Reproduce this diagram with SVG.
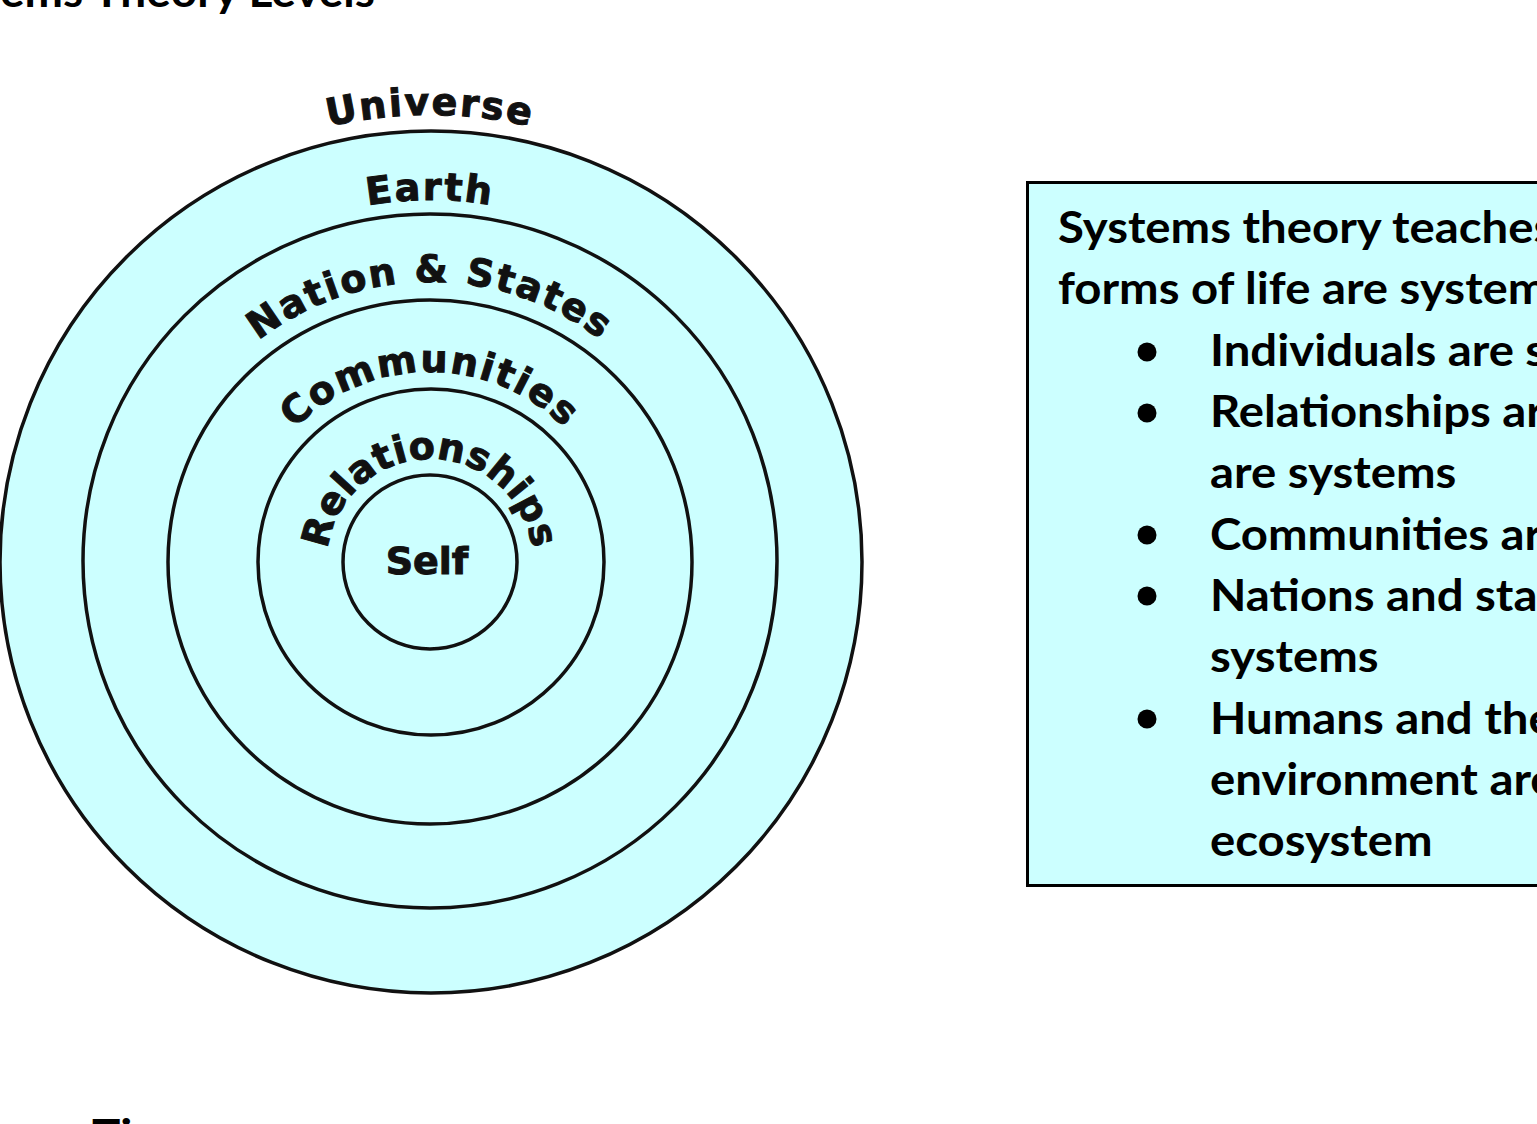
<svg xmlns="http://www.w3.org/2000/svg" width="1537" height="1124" viewBox="0 0 1537 1124">
<style>
.ring{fill:#ccffff;stroke:#111;stroke-width:3.5}
.lbl{font-family:"DejaVu Sans",sans-serif;font-weight:bold;font-size:38px;fill:#111;stroke:#111;stroke-width:1}
.box{font-family:Lato,"Liberation Sans",sans-serif;font-weight:bold;font-size:43px;fill:#000}
</style>
<defs>
<path id="pUniverse" d="M430,1009 A447,447 0 1 1 430,115 A447,447 0 1 1 430,1009"/>
<path id="pEarth" d="M430,924 A362,362 0 1 1 430,200 A362,362 0 1 1 430,924"/>
<path id="pNation" d="M430,842 A280,280 0 1 1 430,282 A280,280 0 1 1 430,842"/>
<path id="pComm" d="M430,752 A190,190 0 1 1 430,372 A190,190 0 1 1 430,752"/>
<path id="pRel" d="M430,665 A103,103 0 1 1 430,459 A103,103 0 1 1 430,665"/>
</defs>
<rect width="1537" height="1124" fill="#fff"/>
<text class="box" x="0" y="7" textLength="375" lengthAdjust="spacingAndGlyphs">ems Theory Levels</text>
<g id="rings">
<circle class="ring" cx="431" cy="562" r="431"/>
<circle class="ring" cx="430" cy="561" r="347"/>
<circle class="ring" cx="430" cy="562" r="262"/>
<circle class="ring" cx="431" cy="562" r="173"/>
<circle class="ring" cx="430" cy="562" r="87"/>
</g>
<g id="universe"><text class="lbl" letter-spacing="2"><textPath href="#pUniverse" startOffset="50%" text-anchor="middle">Universe</textPath></text></g>
<g id="earth"><text class="lbl" letter-spacing="2"><textPath href="#pEarth" startOffset="50%" text-anchor="middle">Earth</textPath></text></g>
<g id="nation"><text class="lbl" letter-spacing="2"><textPath href="#pNation" startOffset="50%" text-anchor="middle">Nation &amp; States</textPath></text></g>
<g id="communities"><text class="lbl" letter-spacing="2"><textPath href="#pComm" startOffset="50%" text-anchor="middle">Communities</textPath></text></g>
<g id="relationships"><text class="lbl" letter-spacing="0.5"><textPath href="#pRel" startOffset="50%" text-anchor="middle">Relationships</textPath></text></g>
<g id="self"><text class="lbl" x="427" y="574" text-anchor="middle">Self</text></g>
<g id="infobox">
<rect x="1027.5" y="182.5" width="530" height="703" fill="#ccffff" stroke="#000" stroke-width="3"/>
<text class="box" transform="translate(1058 243) scale(1.1 1)">Systems theory teaches</text>
<text class="box" transform="translate(1058 304) scale(1.1 1)">forms of life are systems</text>
<g fill="#000">
<circle cx="1147" cy="352" r="9.5"/>
<circle cx="1147" cy="413" r="9.5"/>
<circle cx="1147" cy="535" r="9.5"/>
<circle cx="1147" cy="596" r="9.5"/>
<circle cx="1147" cy="719" r="9.5"/>
</g>
<text class="box" transform="translate(1210 366) scale(1.1 1)">Individuals are systems</text>
<text class="box" transform="translate(1210 427) scale(1.1 1)">Relationships are</text>
<text class="box" transform="translate(1210 488) scale(1.1 1)">are systems</text>
<text class="box" transform="translate(1210 550) scale(1.1 1)">Communities are</text>
<text class="box" transform="translate(1210 611) scale(1.1 1)">Nations and states</text>
<text class="box" transform="translate(1210 672) scale(1.1 1)">systems</text>
<text class="box" transform="translate(1210 734) scale(1.1 1)">Humans and their</text>
<text class="box" transform="translate(1210 795) scale(1.1 1)">environment are</text>
<text class="box" transform="translate(1210 856) scale(1.1 1)">ecosystem</text>
</g>
<text class="box" transform="translate(92 1151) scale(1.1 1)">Ti</text>
</svg>
